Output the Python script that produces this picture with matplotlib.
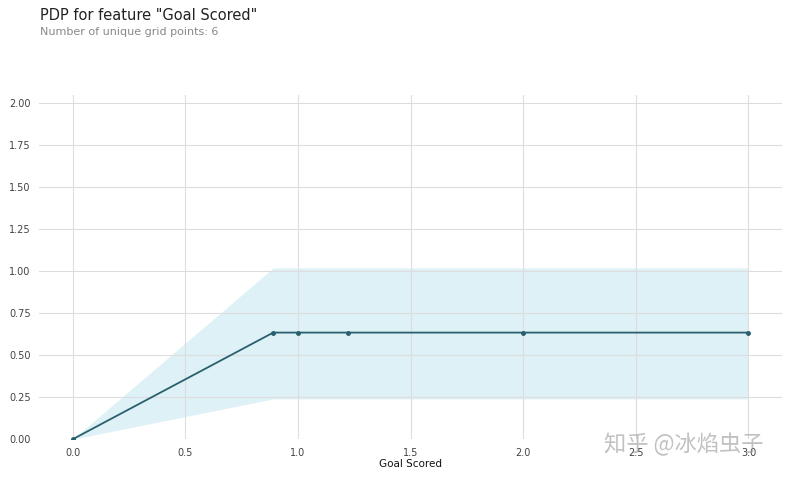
import matplotlib.pyplot as plt

# PDP values
grid_x = [0.0, 0.89, 1.0, 1.22, 2.0, 3.0]
pdp = [0.0, 0.635, 0.635, 0.635, 0.635, 0.635]
upper = [0.0, 1.02, 1.02, 1.02, 1.02, 1.02]
lower = [0.0, 0.24, 0.24, 0.24, 0.24, 0.24]

fig = plt.figure(figsize=(7.95, 4.8), dpi=100)
fig.text(0.05, 0.967, 'PDP for feature "Goal Scored"', fontsize=10.5, color='#222222', va='center')
fig.text(0.05, 0.933, 'Number of unique grid points: 6', fontsize=8, color='#888888', va='center')

ax = fig.add_axes([0.049, 0.085, 0.935, 0.717])
ax.fill_between(grid_x, lower, upper, color='#66C2D7', alpha=0.22, linewidth=0)
ax.plot(grid_x, pdp, color='#2a5f6d', linewidth=1.3, marker='o', markersize=2.5)

ax.set_xlim(-0.15, 3.15)
ax.set_ylim(0, 2.05)
ax.set_yticks([0, 0.25, 0.5, 0.75, 1.0, 1.25, 1.5, 1.75, 2.0])
ax.set_yticklabels(['%.2f' % v for v in ax.get_yticks()])
ax.set_xticks([0, 0.5, 1.0, 1.5, 2.0, 2.5, 3.0])
ax.set_xticklabels(['%.1f' % v for v in ax.get_xticks()])
ax.tick_params(labelsize=7, colors='#424242', length=0, pad=6)
ax.grid(True, color='#dddddd', linewidth=0.8)
for s in ax.spines.values():
    s.set_visible(False)
ax.set_xlabel('Goal Scored', fontsize=7.5, color='#111111', labelpad=1)

# watermark, sits over the last tick labels as in the reference
fig.text(0.76, 0.06, '知乎 @冰焰虫子', fontsize=16, color='#999999', alpha=0.6,
         family=['Noto Sans CJK SC', 'DejaVu Sans'])

fig.savefig('out.png', dpi=100)
